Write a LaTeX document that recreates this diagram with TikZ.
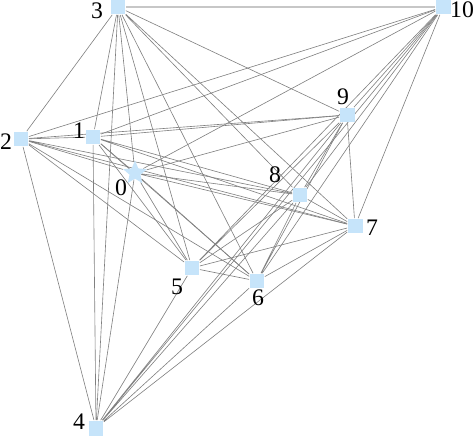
\documentclass[tikz,border=0pt]{standalone}
\usepackage{fontspec}
\setmainfont{Liberation Serif}
\usetikzlibrary{shapes.geometric,backgrounds}
\definecolor{nodefill}{HTML}{C6E4FA}
\definecolor{ink3}{HTML}{808080}
\tikzset{
  every picture/.style={line cap=round, line join=round},
  vtx/.style={rectangle, fill=nodefill, draw=none, inner sep=0pt, minimum size=0.3cm},
  hub/.style={star, star points=5, star point ratio=2.2, fill=nodefill, draw=none,
    inner sep=0pt, minimum size=0.5cm},
  num/.style={font=\fontsize{13.5}{15}\selectfont, text=black, inner sep=0pt},
  edge/.style={draw=ink3, line width=0.35pt},
  heavy/.style={draw=black!22, line width=1.7pt},
}

\begin{document}
\begin{tikzpicture}[x=0.02cm, y=-0.02cm]
  \useasboundingbox (0,0) rectangle (474,436);

  % ---------------- vertices ----------------
  \node[hub] (n0) at (135,173) {};
  \node[vtx] (n1) at (93,137) {};
  \node[vtx] (n2) at (21,139) {};
  \node[vtx] (n3) at (118,7) {};
  \node[vtx] (n4) at (96,428) {};
  \node[vtx] (n5) at (192,268) {};
  \node[vtx] (n6) at (257,281) {};
  \node[vtx] (n7) at (355,226) {};
  \node[vtx] (n8) at (300,195) {};
  \node[vtx] (n9) at (347,115) {};
  \node[vtx] (n10) at (443,7) {};

  % ---------------- labels ----------------
  \node[num] (l0) at (121,188) {0};
  \node[num] (l1) at (79,131) {1};
  \node[num] (l2) at (6,142) {2};
  \node[num] (l3) at (97,11) {3};
  \node[num] (l4) at (79,422) {4};
  \node[num] (l5) at (177,287) {5};
  \node[num] (l6) at (258,298) {6};
  \node[num] (l7) at (372,228) {7};
  \node[num] (l8) at (275,175) {8};
  \node[num] (l9) at (343,97) {9};
  \node[num] (l10) at (462,10) {10};

  % ---------------- edges ----------------
  \begin{scope}[on background layer]
    \draw[heavy] (n3) -- (n10);
    \draw[edge] (n0) -- (n1) (n0) -- (n2) (n0) -- (n3) (n0) -- (n4) (n0) -- (n5)
      (n0) -- (n6) (n0) -- (n7) (n0) -- (n8) (n0) -- (n9) (n0) -- (n10);
    \draw[edge] (n1) -- (n2) (n1) -- (n3) (n1) -- (n4) (n1) -- (n5) (n1) -- (n6)
      (n1) -- (n7) (n1) -- (n8) (n1) -- (n9) (n1) -- (n10);
    \draw[edge] (n2) -- (n3) (n2) -- (n4) (n2) -- (n5) (n2) -- (n6) (n2) -- (n7)
      (n2) -- (n8) (n2) -- (n9) (n2) -- (n10);
    \draw[edge] (n3) -- (n4) (n3) -- (n5) (n3) -- (n6) (n3) -- (n7) (n3) -- (n8)
      (n3) -- (n9);
    \draw[edge] (n4) -- (n5) (n4) -- (n6) (n4) -- (n7) (n4) -- (n8) (n4) -- (n9)
      (n4) -- (n10);
    \draw[edge] (n5) -- (n6) (n5) -- (n7) (n5) -- (n8) (n5) -- (n9) (n5) -- (n10);
    \draw[edge] (n6) -- (n7) (n6) -- (n8) (n6) -- (n9) (n6) -- (n10);
    \draw[edge] (n7) -- (n8) (n7) -- (n9) (n7) -- (n10);
    \draw[edge] (n8) -- (n9) (n8) -- (n10);
    \draw[edge] (n9) -- (n10);
  \end{scope}
\end{tikzpicture}
\end{document}
